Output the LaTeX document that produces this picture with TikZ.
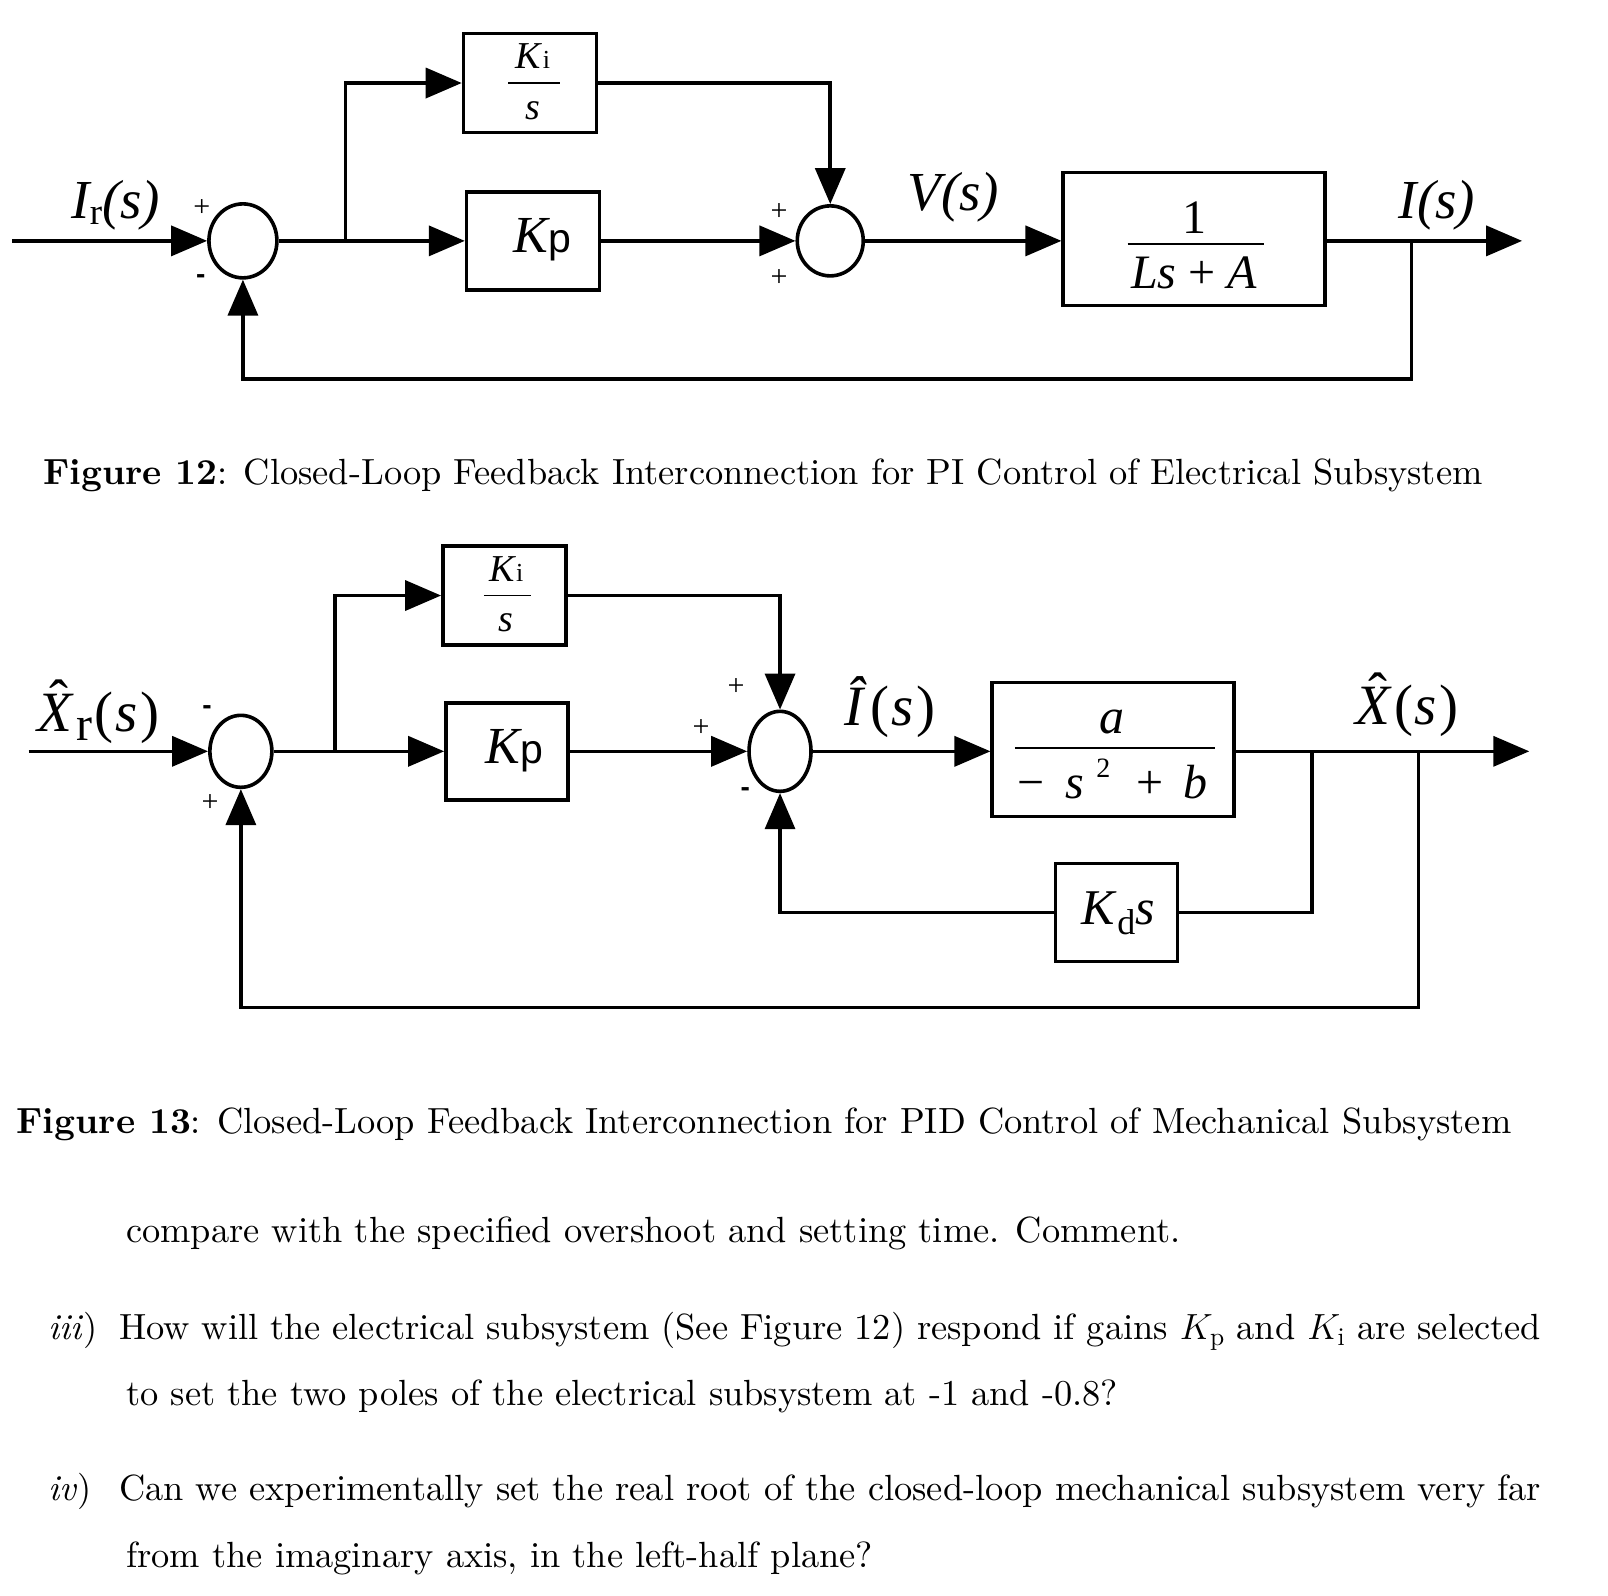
\RequirePackage{fix-cm}
\documentclass[tikz,border=0pt]{standalone}
\usepackage{fontspec}
\setmainfont{lmroman10-regular.otf}[BoldFont=lmroman10-bold.otf,ItalicFont=lmroman10-italic.otf,BoldItalicFont=lmroman10-bolditalic.otf]
\newfontfamily\tms{Liberation Serif}
\newfontfamily\hlv{Liberation Sans}
\usetikzlibrary{arrows.meta,shapes.geometric,calc}
\newcommand\hatit[1]{\ooalign{#1\cr\hidewidth\kern0.16em\raisebox{0.2em}{\upshape\char"02C6}\hidewidth\cr}}
\newcommand\fsz[1]{\fontsize{#1}{#1}\selectfont}
\tikzset{
  wire/.style={line width=3.6pt, line cap=butt, line join=miter},
  arr/.style={wire, -{Triangle[length=36pt,width=30pt]}},
  blk/.style={draw, line width=3.4pt, inner sep=0pt},
  sumn/.style={draw, ellipse, line width=3.6pt, inner sep=0pt},
  lbl/.style={inner sep=0pt, font=\tms\itshape\fsz{55}},
  lblb/.style={inner sep=0pt, font=\tms\fsz{57}},
  sgn/.style={inner sep=0pt, font=\tms\fsz{30}},
  msg/.style={inner sep=0pt, font=\hlv\bfseries\fsz{28}},
  boxt/.style={inner sep=0pt, font=\tms\fsz{48}},
  kpt/.style={inner sep=0pt, font=\tms\itshape\fsz{52}},
  body/.style={inner sep=0pt, anchor=base west, font=\fontsize{36.4}{43}\selectfont},
  frl/.style={line width=1.8pt},
}
\begin{document}
\begin{tikzpicture}[x=1.025pt,y=-1.025pt]
\fill[white] (0,0) rectangle (1568.78,1557.07);
\useasboundingbox (0,0) rectangle (1568.78,1557.07);

% ---------------- Figure 12 ----------------
\coordinate (ain) at (12,235);
\node[sumn, minimum width=68pt, minimum height=74pt] (s1) at (237,235) {};
\node[blk, minimum width=133pt, minimum height=98pt] (kp1) at (520,235) {};
\node[blk, minimum width=133pt, minimum height=99pt] (ki1) at (517,81) {};
\node[sumn, minimum width=66pt, minimum height=70pt] (s2) at (810,235) {};
\node[blk, minimum width=262pt, minimum height=133pt] (g1) at (1165,233) {};
\coordinate (b1) at (337,235);
\coordinate (j1) at (1377,235);
\coordinate (o1) at (1485,235);
\coordinate (f1) at (1377,370);

\draw[arr] (ain) -- (s1.west);
\draw[arr] (s1.east) -- (kp1.west);
\draw[arr] (b1) |- (ki1.west);
\draw[arr] (ki1.east) -| (s2.north);
\draw[arr] (kp1.east) -- (s2.west);
\draw[arr] (s2.east) -- (s2.east -| g1.west);
\draw[arr] (g1.east |- o1) -- (o1);
\draw[arr] (j1) -- (f1) -| (s1.south);

\node[kpt] (kp1t) at (529,234) {K\hlv\upshape\fsz{41}p};
\node[inner sep=0pt, font=\tms\fsz{38}] (ki1n) at (520,55) {\textit{K}\fsz{26}i};
\draw[frl] (496,81) -- (546,81);
\node[inner sep=0pt, font=\tms\itshape\fsz{38}] (ki1d) at (520,108) {s};

\node[boxt] (g1n) at (1165,212) {1};
\draw[frl] (1100,238) -- (1233,238);
\node[boxt] (g1d) at (1165,266) {\textit{Ls} + \textit{A}};

\node[lbl] (lIr) at (113,200) {I\raisebox{-0.12em}{\upshape\fsz{37}r}(s)};
\node[lbl] (lV) at (930,192) {V(s)};
\node[lbl] (lI) at (1402,200) {I(s)};
\node[sgn] (p1) at (197,203) {+};
\node[msg] (m1) at (196,272) {-};
\node[sgn] (p2) at (760,207) {+};
\node[sgn] (p3) at (760,271) {+};

\node[body] (cap12) at (42,473) {{\bfseries Figure 12}: Closed-Loop Feedback Interconnection for PI Control of Electrical Subsystem};

% ---------------- Figure 13 ----------------
\coordinate (bin) at (28,733);
\node[sumn, minimum width=62pt, minimum height=72pt] (t1) at (235,733) {};
\node[blk, minimum width=122pt, minimum height=97pt] (kp2) at (494.5,733) {};
\node[blk, minimum width=123pt, minimum height=99pt] (ki2) at (492,581) {};
\node[sumn, minimum width=62pt, minimum height=80pt] (t2) at (761,733) {};
\node[blk, minimum width=242pt, minimum height=134pt] (g2) at (1086,731) {};
\node[blk, minimum width=122pt, minimum height=98pt] (kd) at (1089.5,890) {};
\coordinate (b2) at (327,733);
\coordinate (j2a) at (1280,733);
\coordinate (j2b) at (1384,733);
\coordinate (o2) at (1492,733);
\coordinate (f2) at (1384,983);
\coordinate (d2) at (1280,890);

\draw[arr] (bin) -- (t1.west);
\draw[arr] (t1.east) -- (kp2.west);
\draw[arr] (b2) |- (ki2.west);
\draw[arr] (ki2.east) -| (t2.north);
\draw[arr] (kp2.east) -- (t2.west);
\draw[arr] (t2.east) -- (t2.east -| g2.west);
\draw[arr] (g2.east |- o2) -- (o2);
\draw[wire, line width=3.2pt] (j2a) -- (d2) -- (kd.east);
\draw[arr, line width=3.2pt] (kd.west) -| (t2.south);
\draw[arr] (j2b) -- (f2) -| (t1.south);

\node[kpt] (kp2t) at (502,732) {K\hlv\upshape\fsz{41}p};
\node[inner sep=0pt, font=\tms\fsz{50}] (kdt) at (1091,891) {\textit{K}\raisebox{-0.2em}{\fsz{36}d}\textit{s}};
\node[inner sep=0pt, font=\tms\fsz{38}] (ki2n) at (494,555) {\textit{K}\fsz{26}i};
\draw[frl] (472,581) -- (518,581);
\node[inner sep=0pt, font=\tms\itshape\fsz{38}] (ki2d) at (494,608) {s};

\node[boxt, font=\tms\itshape\fsz{50}] (g2n) at (1085,704) {a};
\draw[frl] (990,730) -- (1185,730);
\node[boxt] (g2d) at (1085,760) {−\hspace{0.45em}\textit{s}\hspace{0.25em}\raisebox{0.42em}{\fsz{28}2}\hspace{0.55em}+\hspace{0.4em}\textit{b}};

\node[lblb] (lXr) at (96,700) {\hatit{\itshape X}\kern0.08em\raisebox{-0.16em}{\fsz{48}r}\kern0.04em(\kern0.03em\textit{s}\kern0.05em)};
\node[lblb] (lIh) at (868,690) {\textit{Î}\kern0.06em(\kern0.03em\textit{s}\kern0.05em)};
\node[lblb] (lX) at (1373,693) {\hatit{\itshape X}\kern0.06em(\kern0.03em\textit{s}\kern0.05em)};
\node[msg] (m2) at (202,693) {-};
\node[sgn] (p4) at (205,783) {+};
\node[sgn] (p5) at (718,670) {+};
\node[sgn] (p6) at (684,710) {+};
\node[msg] (m3) at (727,773) {-};

\node[body] (cap13) at (16,1106) {{\bfseries Figure 13}: Closed-Loop Feedback Interconnection for PID Control of Mechanical Subsystem};

% ---------------- Text ----------------
\node[body] (t0) at (123,1212) {compare with the specified overshoot and setting time. Comment.};
\node[body] (l3) at (47,1307) {\textit{iii})};
\node[body] (t3a) at (116,1307) {\hbox to 1422pt{How will the electrical subsystem (See Figure 12) respond if gains $K_{\mathrm{p}}$ and $K_{\mathrm{i}}$ are selected}};
\node[body] (t3b) at (123,1371) {to set the two poles of the electrical subsystem at -1 and -0.8?};
\node[body] (l4) at (47,1464) {\textit{iv})};
\node[body] (t4a) at (116,1464) {\hbox to 1422pt{Can we experimentally set the real root of the closed-loop mechanical subsystem very far}};
\node[body] (t4b) at (123,1529) {from the imaginary axis, in the left-half plane?};
\end{tikzpicture}
\end{document}
